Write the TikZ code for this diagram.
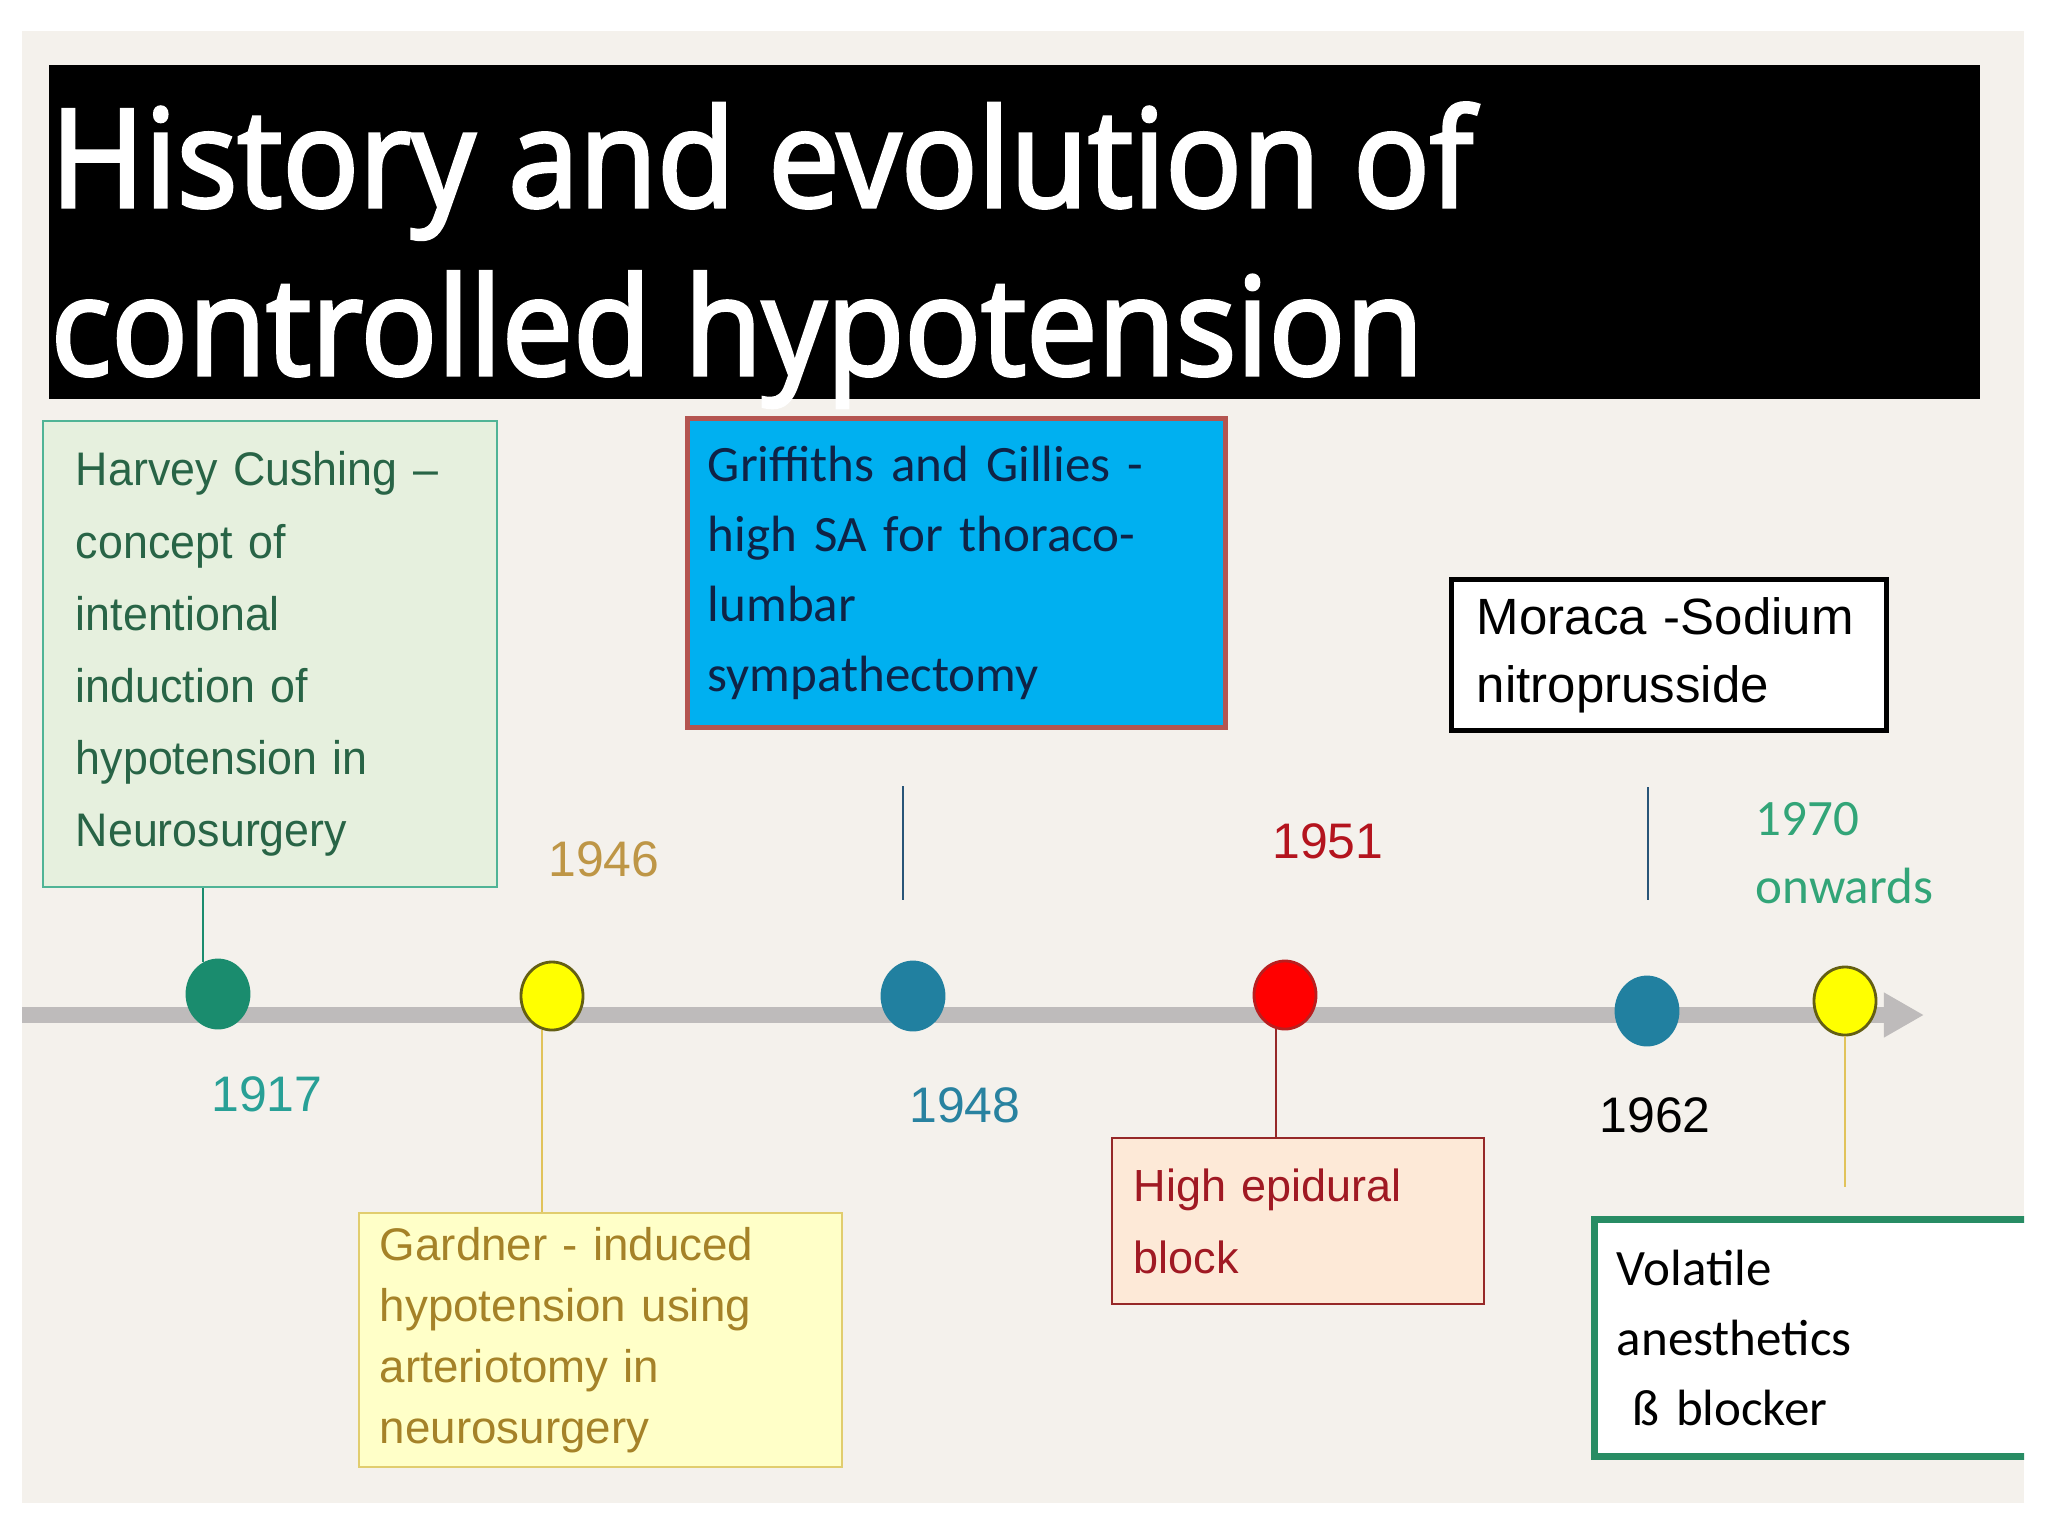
\documentclass[tikz,border=0pt]{standalone}
\usepackage{fontspec}
\usepackage{tikz}
\usetikzlibrary{shapes.geometric,arrows.meta}
\setmainfont{Liberation Sans}
\newfontfamily\titlefont[FakeStretch=0.935,FakeBold=2.5]{Open Sans}
\newfontfamily\narrowfont[FakeStretch=0.95]{Liberation Sans}
\newfontfamily\califont{Carlito}

\definecolor{slidebg}{RGB}{244,241,236}
\definecolor{tlgrey}{RGB}{190,187,187}
\definecolor{dotgreen}{RGB}{26,140,110}
\definecolor{dotteal}{RGB}{33,128,160}
\definecolor{dotyellow}{RGB}{255,255,0}
\definecolor{dotolive}{RGB}{100,95,20}
\definecolor{dotred}{RGB}{255,0,0}
\definecolor{dotredline}{RGB}{185,30,30}
\definecolor{harvfill}{RGB}{230,240,222}
\definecolor{harvline}{RGB}{80,180,150}
\definecolor{harvtext}{RGB}{40,100,70}
\definecolor{grifill}{RGB}{0,176,240}
\definecolor{griline}{RGB}{180,85,80}
\definecolor{gritext}{RGB}{15,35,70}
\definecolor{gardfill}{RGB}{255,255,200}
\definecolor{gardline}{RGB}{225,205,110}
\definecolor{gardtext}{RGB}{165,130,40}
\definecolor{epifill}{RGB}{253,233,215}
\definecolor{epiline}{RGB}{150,40,40}
\definecolor{epitext}{RGB}{160,25,35}
\definecolor{volline}{RGB}{40,140,100}
\definecolor{yrteal}{RGB}{40,160,150}
\definecolor{yrgold}{RGB}{190,150,70}
\definecolor{yrblue}{RGB}{40,130,160}
\definecolor{yrred}{RGB}{180,20,30}
\definecolor{yrgreen}{RGB}{50,165,120}
\definecolor{stemyellow}{RGB}{225,195,90}
\definecolor{stemblue}{RGB}{40,85,120}

\begin{document}
\begin{tikzpicture}[x=0.01cm,y=-0.01cm]
\tikzstyle{dot}=[ellipse,minimum width=0.62cm,minimum height=0.68cm,inner sep=0pt,line width=0.8pt]
\tikzstyle{year}=[font=\fontsize{14.2}{17}\selectfont,inner sep=0pt]
\tikzstyle{card}=[rectangle,align=left,inner ysep=2pt]
\tikzstyle{stem}=[line width=0.6pt]
\useasboundingbox (0,0) rectangle (2048,1536);
\fill[white] (0,0) rectangle (2048,1536);
\fill[slidebg] (22,31) rectangle (2024,1503);
\begin{scope}
\clip (22,31) rectangle (2024,1503);
% title bar
\node[fill=black,minimum width=19.29cm,minimum height=3.34cm,inner sep=0pt] (titlebar) at (1014.5,232) {};
\node[anchor=north west,inner sep=0pt,align=left,text=white,font=\titlefont\fontsize{38.7}{47.8}\selectfont] (title) at (50,102) {History and evolution of\\controlled hypotension};
% time line
\coordinate (tlstart) at (0,1015);
\coordinate (tlend) at (1924,1015);
\draw[line width=4.55pt,tlgrey,-{Triangle[length=0.4cm,width=0.42cm]}] (tlstart) -- (tlend);
\foreach \name/\point/\fcol/\dcol in {
	c1917/{218,994}/dotgreen/dotgreen,
	c1946/{552,996}/dotyellow/dotolive,
	c1948/{913,996}/dotteal/dotteal,
	c1951/{1285,995}/dotred/dotredline,
	c1962/{1647,1011}/dotteal/dotteal,
	c1970/{1845,1001}/dotyellow/dotolive}
	\node[dot,fill=\fcol,draw=\dcol] (\name) at (\point) {};
% years
\foreach \name/\point/\col/\yr in {
	y1917/{267,1094}/yrteal/1917,
	y1946/{604,859}/yrgold/1946,
	y1948/{965,1105}/yrblue/1948,
	y1951/{1328,841}/yrred/1951,
	y1962/{1655,1115}/black/1962}
	\node[year,text=\col] (\name) at (\point) {\yr};
\node[anchor=west,align=left,inner sep=0pt,text=yrgreen,font=\califont\fontsize{14.5}{19.3}\selectfont] (y1970) at (1755,853) {1970\\onwards};
% event boxes
\node[card,fill=harvfill,draw=harvline,line width=0.6pt,text=harvtext,minimum width=4.54cm,minimum height=4.66cm,text width=3.88cm,inner xsep=0.33cm,font=\narrowfont\fontsize{13.4}{20.5}\selectfont] (harvey) at (270,654) {Harvey Cushing –\\concept of\\intentional\\induction of\\hypotension in\\Neurosurgery};
\node[card,fill=grifill,draw=griline,line width=1.4pt,text=gritext,minimum width=5.37cm,minimum height=3.08cm,text width=4.97cm,inner xsep=0.2cm,font=\califont\fontsize{14.5}{19.9}\selectfont] (griffiths) at (956.5,573) {Griffiths and Gillies -\\high SA for thoraco-\\lumbar\\sympathectomy};
\node[card,fill=white,draw=black,line width=1.4pt,minimum width=4.34cm,minimum height=1.51cm,text width=3.84cm,inner xsep=0.25cm,font=\fontsize{14.5}{19.3}\selectfont] (moraca) at (1669,655) {Moraca -Sodium\\nitroprusside};
\node[card,fill=gardfill,draw=gardline,line width=0.6pt,text=gardtext,minimum width=4.83cm,minimum height=2.54cm,text width=4.41cm,inner xsep=0.21cm,font=\fontsize{13.0}{17.4}\selectfont] (gardner) at (600.5,1340) {Gardner - induced\\hypotension using\\arteriotomy in\\neurosurgery};
\node[card,fill=epifill,draw=epiline,line width=0.7pt,text=epitext,minimum width=3.72cm,minimum height=1.66cm,text width=3.28cm,inner xsep=0.22cm,font=\fontsize{12.8}{20.5}\selectfont] (epidural) at (1298,1221) {High epidural\\block};
\node[card,fill=white,draw=volline,line width=2pt,minimum width=4.65cm,minimum height=2.36cm,text width=4.21cm,inner xsep=0.22cm,font=\califont\fontsize{14.5}{19.9}\selectfont] (volatile) at (1827.5,1338) {Volatile\\anesthetics\\\hspace{0.3em}ß blocker};
% stems
\coordinate (g1) at (903,786);
\coordinate (g2) at (903,900);
\coordinate (m1) at (1648,787);
\coordinate (m2) at (1648,900);
\coordinate (voltop) at (1845,1187);
\draw[stem,dotgreen] (harvey.south -| c1917.115) -- (c1917.115);
\draw[stem,stemyellow] (c1946.253) -- (c1946.253 |- gardner.north);
\draw[stem,stemblue] (g1) -- (g2);
\draw[stem,epiline] (c1951.255) -- (c1951.255 |- epidural.north);
\draw[stem,stemblue] (m1) -- (m2);
\draw[stem,stemyellow] (c1970.south) -- (voltop);
\end{scope}
\end{tikzpicture}
\end{document}
